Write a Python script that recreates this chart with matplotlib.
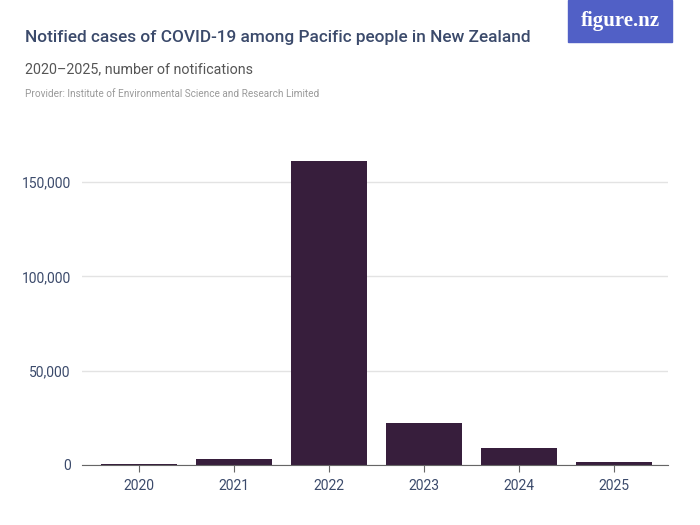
import matplotlib.pyplot as plt
from matplotlib.patches import Rectangle
from matplotlib.ticker import FuncFormatter

years = ["2020", "2021", "2022", "2023", "2024", "2025"]
cases = [500, 3300, 161300, 22200, 8800, 1550]
yticks = [0, 50000, 100000, 150000]

navy = "#3b4a6b"
plt.rcParams['font.family'] = ['Roboto', 'DejaVu Sans']

fig = plt.figure(figsize=(7, 5.25), dpi=100)
ax = fig.add_axes([0.117, 0.1143, 0.837, 0.611])

x = range(len(years))
ax.bar(x, cases, width=0.8, color="#371e3c", zorder=3)

ax.set_xlim(-0.6, 5.57)
ax.set_ylim(0, 170000)
ax.set_xticks(list(x))
ax.set_xticklabels(years)
ax.set_yticks(yticks)
ax.yaxis.set_major_formatter(FuncFormatter(lambda v, p: f"{int(v):,}"))

ax.grid(axis="y", color="#e3e3e3", linewidth=1, zorder=0)
for s in ["top", "right", "left"]:
    ax.spines[s].set_visible(False)
ax.spines["bottom"].set_color("#666666")
ax.spines["bottom"].set_zorder(4)
ax.tick_params(axis="y", length=0, pad=8, labelsize=10, labelcolor=navy)
ax.tick_params(axis="x", length=5, color="#666666", pad=5, labelsize=10, labelcolor=navy)

fig.text(0.036, 0.928, "Notified cases of COVID-19 among Pacific people in New Zealand",
         fontsize=12.4, fontweight="medium", color=navy, va="center")
fig.text(0.036, 0.868, "2020\u20132025, number of notifications",
         fontsize=10.3, color="#555555", va="center")
fig.text(0.036, 0.821, "Provider: Institute of Environmental Science and Research Limited",
         fontsize=7.2, color="#9a9a9a", va="center")

# logo
fig.patches.append(Rectangle((568 / 700, 1 - 42 / 525), 104 / 700, 42 / 525,
                             transform=fig.transFigure, color="#5160c6", zorder=0))
fig.text(620 / 700, 1 - 21 / 525, "figure.nz", fontsize=15, fontweight="bold",
         family=["Liberation Serif", "DejaVu Serif"], color="white", ha="center", va="center")

fig.savefig("out.png", dpi=100)
